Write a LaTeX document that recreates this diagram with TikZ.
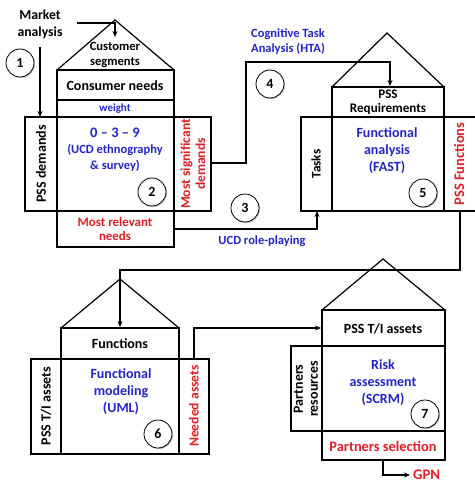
\documentclass[tikz,border=0pt]{standalone}
\usepackage{fontspec}
\setmainfont{Carlito}
\usetikzlibrary{arrows.meta,shadows}

\definecolor{pssblue}{RGB}{35,35,205}
\definecolor{pssred}{RGB}{228,30,36}
\newcommand\pssfs[2]{\bfseries\fontsize{#1}{#2}\selectfont}

\tikzset{
  wall/.style={line width=1.2pt},
  link/.style={line width=1.2pt,-{Stealth[length=6pt,width=5pt]}},
  lbl/.style={font=\pssfs{14}{16},align=center,inner sep=0pt},
  blu/.style={lbl,text=pssblue,font=\pssfs{14}{17}},
  rd/.style={lbl,text=pssred},
  num/.style={circle,draw,fill=white,line width=0.8pt,minimum size=28pt,inner sep=0pt,
    font=\pssfs{14}{14},
    drop shadow={shadow xshift=1pt,shadow yshift=-1pt,fill=black!45}}
}

\begin{document}
\begin{tikzpicture}[x=1pt,y=-1pt]
  \useasboundingbox (0,0) rectangle (474,489);

  % house 2 : needs
  \draw[wall] (57,70) -- (115,20) -- (174,70);
  \draw[wall] (57,70) rectangle (174,247);
  \draw[wall] (57,100) -- (174,100);
  \draw[wall] (25,117) rectangle (211,211);
  \node[lbl,font=\pssfs{12.6}{14.5}] (segments) at (115,55) {Customer\\segments};
  \node[lbl] (needs) at (115,86) {Consumer needs};
  \node[blu,font=\pssfs{11}{12}] (weight) at (115,109) {weight};
  \node[blu,font=\pssfs{12.5}{16}] (ucd) at (115,150) {{\fontsize{14.5}{16}\selectfont 0 -- 3 -- 9}\\(UCD ethnography\\\& survey)};
  \node[lbl,rotate=90] (demands) at (41,164) {PSS demands};
  \node[rd,rotate=90,font=\pssfs{13.6}{15}] (significant) at (193,164) {Most significant\\demands};
  \node[rd,font=\pssfs{12.9}{14.5}] (relevant) at (115,229) {Most relevant\\needs};
  \node[num] (n2) at (152,192) {2};

  % market analysis
  \node[lbl,font=\pssfs{13.7}{17}] (market) at (40,24) {Market\\analysis};
  \coordinate (marketTie) at (77,23);
  \coordinate (segIn) at (115,37);
  \coordinate (demandsTop) at (40,117);
  \draw[link] ([yshift=-8pt]market.south) -- (demandsTop);
  \draw[link] (marketTie) -| (segIn);
  \node[num] (n1) at (20,63) {1};

  % house 5 : functional analysis
  \draw[wall] (332,87) -- (387,33) -- (444,87);
  \draw[wall] (332,87) rectangle (444,211);
  \draw[wall] (301,117) rectangle (478,211);
  \node[lbl,font=\pssfs{13.1}{13.5}] (requirements) at (388,102) {PSS\\Requirements};
  \node[lbl,rotate=90,font=\pssfs{13.2}{14}] (tasks) at (316,164) {Tasks};
  \node[blu] (fast) at (387,151) {Functional\\analysis\\(FAST)};
  \node[rd,rotate=90,font=\pssfs{14.5}{15}] (pssfunctions) at (459,164) {PSS Functions};
  \node[num] (n5) at (423,193) {5};

  % step 4
  \coordinate (sigOut) at (211,163);
  \coordinate (bendA) at (246,62);
  \coordinate (reqIn) at (390,86);
  \draw[link] (sigOut) -| (bendA) -| (reqIn);
  \node[blu,align=left,anchor=west,font=\pssfs{12.5}{15}] (hta) at (251,42) {Cognitive Task\\Analysis (HTA)};
  \node[num] (n4) at (270,84) {4};

  % step 3
  \coordinate (relOut) at (174,229);
  \coordinate (tasksIn) at (317,211);
  \draw[link] (relOut) -| (tasksIn);
  \node[blu,font=\pssfs{12.5}{14}] (roleplay) at (262,241) {UCD role-playing};
  \node[num] (n3) at (245,208) {3};

  % house 6 : functional modeling
  \draw[wall] (61,328) -- (120,279) -- (179,328);
  \draw[wall] (61,328) rectangle (179,454);
  \draw[wall] (31,359) rectangle (209,454);
  \node[lbl] (functions) at (120,344) {Functions};
  \node[lbl,rotate=90] (tiassets) at (46,406) {PSS T/I assets};
  \node[blu] (uml) at (121,392) {Functional\\modeling\\(UML)};
  \node[rd,rotate=90,font=\pssfs{13.6}{15}] (needed) at (194,406) {Needed assets};
  \node[num] (n6) at (158,434) {6};

  \coordinate (funcOut) at (460,211);
  \coordinate (bendB) at (120,270);
  \coordinate (fnIn) at (120,327);
  \draw[link] (funcOut) |- (bendB) -- (fnIn);

  % house 7 : risk assessment
  \draw[wall] (322,310) -- (383,259) -- (445,310);
  \draw[wall] (322,310) rectangle (445,460);
  \draw[wall] (322,346) -- (445,346);
  \draw[wall] (322,431) -- (445,431);
  \draw[wall] (291,346) rectangle (322,431);
  \node[lbl] (assets) at (383,329) {PSS T/I assets};
  \node[lbl,rotate=90,font=\pssfs{14}{15}] (resources) at (306,389) {Partners\\resources};
  \node[blu] (scrm) at (383,383) {Risk\\assessment\\(SCRM)};
  \node[rd,font=\pssfs{14.4}{15}] (selection) at (383,446) {Partners selection};
  \node[num] (n7) at (425,414) {7};

  \coordinate (needOut) at (194,359);
  \coordinate (assetsIn) at (321,328);
  \draw[link] (needOut) |- (assetsIn);

  \coordinate (selOut) at (383,460);
  \node[rd,anchor=west,inner sep=3pt,font=\pssfs{14.7}{15}] (gpn) at (410,475) {GPN};
  \draw[link] (selOut) |- (gpn.west);
\end{tikzpicture}
\end{document}
